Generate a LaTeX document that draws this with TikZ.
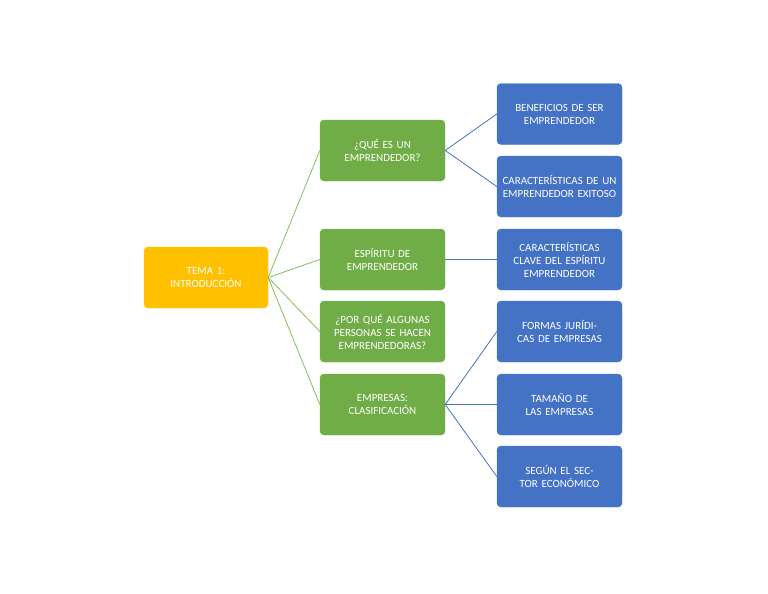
\documentclass[tikz,border=0pt]{standalone}
\usepackage{fontspec}
\setmainfont{Carlito}
\begin{document}
\begin{tikzpicture}[x=1pt,y=-1pt,
 box/.style={rounded corners=4pt,minimum width=125pt,minimum height=61pt,text width=118pt,align=center,text=white,font=\fontsize{11}{13}\selectfont,inner sep=2pt},
 tema/.style={box,fill={rgb,255:red,255;green,192;blue,0},draw={rgb,255:red,255;green,192;blue,0},minimum width=124pt},
 grn/.style={box,fill={rgb,255:red,112;green,173;blue,71},draw={rgb,255:red,112;green,173;blue,71}},
 blu/.style={box,fill={rgb,255:red,68;green,114;blue,196},draw={rgb,255:red,68;green,114;blue,196}},
 gl/.style={draw={rgb,255:red,130;green,190;blue,90},line width=0.8pt},
 bl/.style={draw={rgb,255:red,68;green,114;blue,196},line width=0.8pt}]
\useasboundingbox (0,0) rectangle (768,594);
\node[tema] (t) at (206,277.5) {TEMA 1:\\INTRODUCCIÓN};
\node[grn] (g1) at (382.5,150.5) {¿QUÉ ES UN\\EMPRENDEDOR?};
\node[grn] (g2) at (382.5,259.5) {ESPÍRITU DE\\EMPRENDEDOR};
\node[grn] (g3) at (382.5,331.5) {¿POR QUÉ ALGUNAS PERSONAS SE HACEN EMPRENDEDORAS?};
\node[grn] (g4) at (382.5,404.5) {EMPRESAS:\\CLASIFICACIÓN};
\node[blu] (b1) at (559.5,114) {BENEFICIOS DE SER EMPRENDEDOR};
\node[blu] (b2) at (559.5,186.5) {CARACTERÍSTICAS DE UN EMPRENDEDOR EXITOSO};
\node[blu] (b3) at (559.5,259.5) {CARACTERÍSTICAS CLAVE DEL ESPÍRITU EMPRENDEDOR};
\node[blu] (b4) at (559.5,331.5) {FORMAS JURÍDICAS DE EMPRESAS};
\node[blu] (b5) at (559.5,404.5) {TAMAÑO DE LAS EMPRESAS};
\node[blu] (b6) at (559.5,476.5) {SEGÚN EL SECTOR ECONÓMICO};
\foreach \g in {g1,g2,g3,g4} \draw[gl] (t.east) -- (\g.west);
\draw[bl] (g1.east) -- (b1.west);
\draw[bl] (g1.east) -- (b2.west);
\draw[bl] (g2.east) -- (b3.west);
\draw[bl] (g4.east) -- (b4.west);
\draw[bl] (g4.east) -- (b5.west);
\draw[bl] (g4.east) -- (b6.west);
\end{tikzpicture}
\end{document}
